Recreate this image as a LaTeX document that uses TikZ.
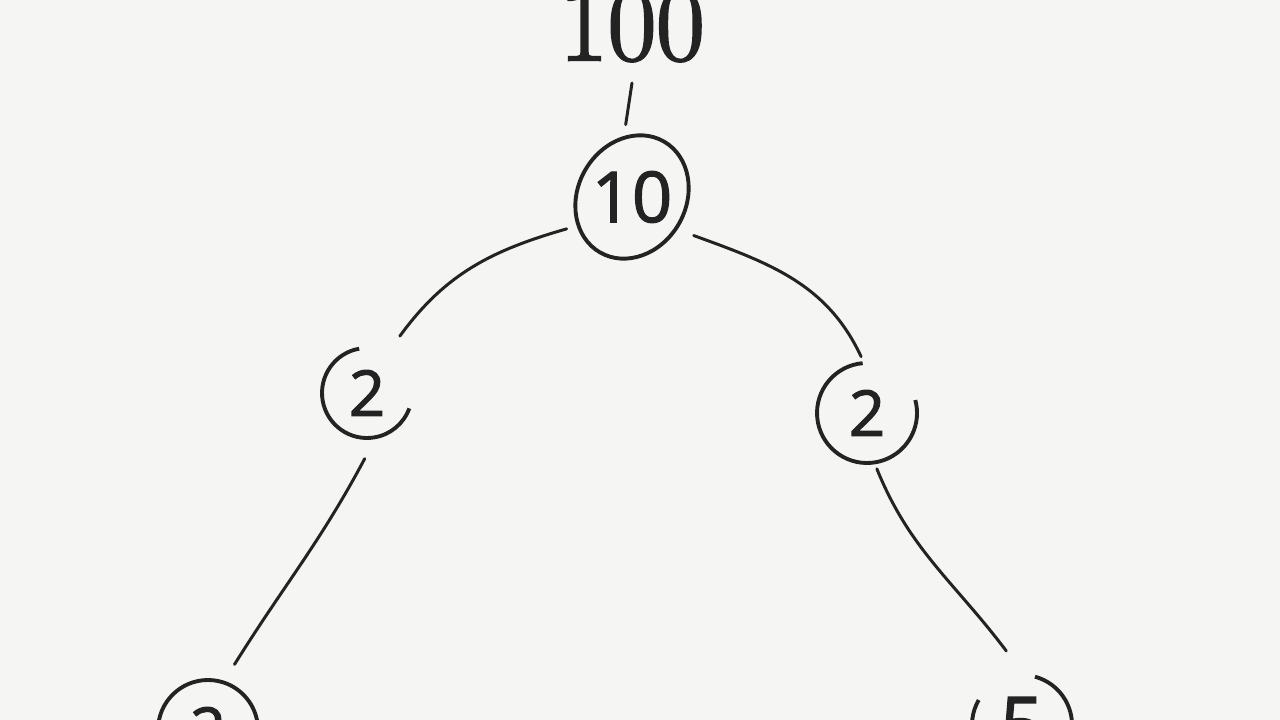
\documentclass[tikz,border=0pt]{standalone}
\usepackage{fontspec}
\usepackage{tikz}
\usetikzlibrary{positioning}
\newfontfamily\digitfont{Open Sans}[FakeBold=1.8]
\newfontfamily\topfont{Latin Modern Roman}[FakeBold=2.4]
\definecolor{paper}{RGB}{245,245,243}
\definecolor{ink}{RGB}{35,35,35}

\begin{document}
\begin{tikzpicture}[on grid, inner sep=0pt, text=ink,
    num/.style={circle, minimum size=#1, font=\digitfont\fontsize{18}{20}\selectfont},
    ring/.style={draw=ink, line width=1.1pt},
    edge/.style={draw=ink, line width=0.85pt, line cap=round}]
  \useasboundingbox (0,0) rectangle (12.8,-7.2);
  \clip (0,0) rectangle (12.8,-7.2);
  \fill[paper] (0,0) rectangle (12.8,-7.2);

  \node[num=1.44cm, font=\digitfont\fontsize{20}{24}\selectfont] (ten) at (6.32,-1.97) {10};
  \node (top) [above=1.71cm of ten, font=\topfont\fontsize{30}{36}\selectfont] {100};
  \node[num=1.3cm] (l2) [below left=1.96cm and 2.65cm of ten] {2};
  \node[num=1.12cm] (r2) [below right=2.16cm and 2.35cm of ten] {2};
  \node[num=1.4cm] (ll) [below left=3.37cm and 1.59cm of l2] {2};
  \node[num=1.5cm, font=\digitfont\fontsize{22}{24}\selectfont] (r5) [below right=3.12cm and 1.55cm of r2] {5};

  % rings round the numbers
  \draw[ring, rotate around={60:(ten)}] (ten) ellipse [x radius=0.64, y radius=0.54];
  \draw[ring] (l2) ++(100:0.45) arc [start angle=100, end angle=340, radius=0.45];
  \draw[ring] (r2) ++(95:0.5) arc [start angle=95, end angle=375, radius=0.5];
  \draw[ring] (ll) circle [radius=0.5];
  \draw[ring] (r5) ++(150:0.5) arc [start angle=150, end angle=435, radius=0.5];

  \draw[edge] ([yshift=-0.57cm]top.center) -- (ten.95);
  \draw[edge] (ten.206) to[out=196, in=54] (l2.60);
  \draw[edge] (ten.-32) to[out=-20, in=115] (r2.96);
  \draw[edge] (l2.-92) to[out=-118, in=58] (ll.68);
  \draw[edge] (r2.-80) to[out=-68, in=127] (r5.102);
\end{tikzpicture}
\end{document}
